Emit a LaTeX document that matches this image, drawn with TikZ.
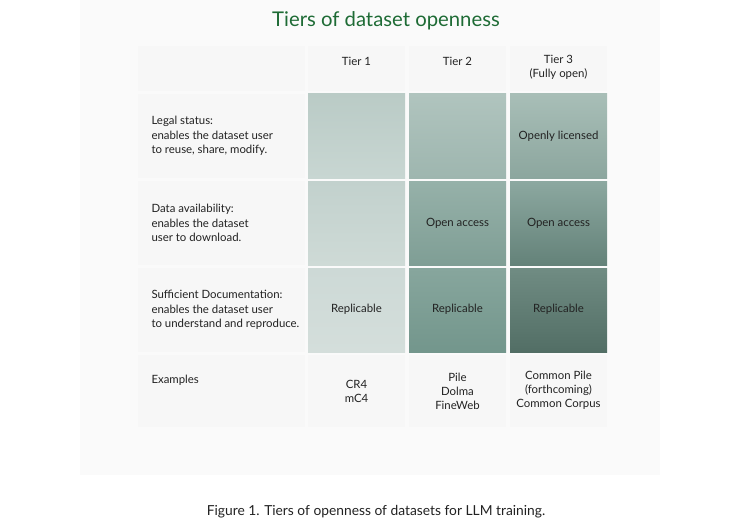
\documentclass[tikz,border=0pt]{standalone}
\usepackage{fontspec}
\setmainfont{Lato}
\definecolor{titlegreen}{HTML}{1E6B35}
\definecolor{panel}{HTML}{FAFAFA}
\definecolor{cellgray}{HTML}{F7F7F7}
\definecolor{ink}{HTML}{222222}
% tier shades, row/tier: top and bottom
\definecolor{aOneT}{HTML}{BACBC6}\definecolor{aOneB}{HTML}{C8D6D2}
\definecolor{aTwoT}{HTML}{B0C4BE}\definecolor{aTwoB}{HTML}{9EB6AF}
\definecolor{aThrT}{HTML}{A8BEB7}\definecolor{aThrB}{HTML}{8CA69E}
\definecolor{bOneT}{HTML}{C2D1CD}\definecolor{bOneB}{HTML}{CEDAD6}
\definecolor{bTwoT}{HTML}{96B1A9}\definecolor{bTwoB}{HTML}{7F9E95}
\definecolor{bThrT}{HTML}{8CA8A0}\definecolor{bThrB}{HTML}{648279}
\definecolor{cOneT}{HTML}{CDD9D6}\definecolor{cOneB}{HTML}{D4DEDB}
\definecolor{cTwoT}{HTML}{87A69D}\definecolor{cTwoB}{HTML}{73968C}
\definecolor{cThrT}{HTML}{708C83}\definecolor{cThrB}{HTML}{526E65}
\tikzset{
  rowlabel/.style={anchor=west, align=left, font=\fontsize{11.4}{14.5}\selectfont, text=ink},
  celltext/.style={align=center, font=\fontsize{11.4}{14}\selectfont, text=ink}
}
\begin{document}
\begin{tikzpicture}[x=1pt,y=-1pt]
  \useasboundingbox (0,0) rectangle (741,524);
  \fill[white] (0,0) rectangle (741,524);
  \fill[panel] (80,0) rectangle (660,475);

  \node[font=\fontsize{20.3}{24}\selectfont, text=titlegreen] (title) at (386,21) {Tiers of dataset openness};

  % header row
  \fill[cellgray] (138,46) rectangle (305,91);
  \fill[cellgray] (308,46) rectangle (405,91);
  \fill[cellgray] (409,46) rectangle (506,91);
  \fill[cellgray] (510,46) rectangle (607,91);
  \node[celltext] (h1) at (356.5,61) {Tier 1};
  \node[celltext] (h2) at (457.5,61) {Tier 2};
  \node[celltext] (h3) at (558.5,67) {Tier 3\\(Fully open)};

  % row labels
  \fill[cellgray] (138,94) rectangle (305,178);
  \fill[cellgray] (138,181) rectangle (305,265);
  \fill[cellgray] (138,268) rectangle (305,352);
  \fill[cellgray] (138,355) rectangle (305,427);
  \node[rowlabel] (legal) at (148,136) {Legal status:\\enables the dataset user\\to reuse, share, modify.};
  \node[rowlabel] (avail) at (148,223) {Data availability:\\enables the dataset\\user to download.};
  \node[rowlabel] (docs) at (148,310) {Sufficient Documentation:\\enables the dataset user\\to understand and reproduce.};
  \node[rowlabel] (examples) at (148,380) {Examples};

  % tier cells
  \shade[top color=aOneT, bottom color=aOneB] (308,94) rectangle (405,178);
  \shade[top color=aTwoT, bottom color=aTwoB] (409,94) rectangle (506,178);
  \shade[top color=aThrT, bottom color=aThrB] (510,94) rectangle (607,178);
  \shade[top color=bOneT, bottom color=bOneB] (308,181) rectangle (405,265);
  \shade[top color=bTwoT, bottom color=bTwoB] (409,181) rectangle (506,265);
  \shade[top color=bThrT, bottom color=bThrB] (510,181) rectangle (607,265);
  \shade[top color=cOneT, bottom color=cOneB] (308,268) rectangle (405,352);
  \shade[top color=cTwoT, bottom color=cTwoB] (409,268) rectangle (506,352);
  \shade[top color=cThrT, bottom color=cThrB] (510,268) rectangle (607,352);

  \node[celltext] (licensed) at (558.5,136) {Openly licensed};
  \node[celltext] (access2) at (457.5,223) {Open access};
  \node[celltext] (access3) at (558.5,223) {Open access};
  \node[celltext] (repl1) at (356.5,309) {Replicable};
  \node[celltext] (repl2) at (457.5,309) {Replicable};
  \node[celltext] (repl3) at (558.5,309) {Replicable};

  % examples
  \fill[cellgray] (308,355) rectangle (405,427);
  \fill[cellgray] (409,355) rectangle (506,427);
  \fill[cellgray] (510,355) rectangle (607,427);
  \node[celltext] (ex1) at (356.5,391) {CR4\\mC4};
  \node[celltext] (ex2) at (457.5,391) {Pile\\Dolma\\FineWeb};
  \node[celltext] (ex3) at (558.5,390) {Common Pile\\(forthcoming)\\Common Corpus};

  \node[font=\fontsize{13.8}{16}\selectfont, text=ink] (caption) at (376,512) {Figure 1. Tiers of openness of datasets for LLM training.};
\end{tikzpicture}
\end{document}
